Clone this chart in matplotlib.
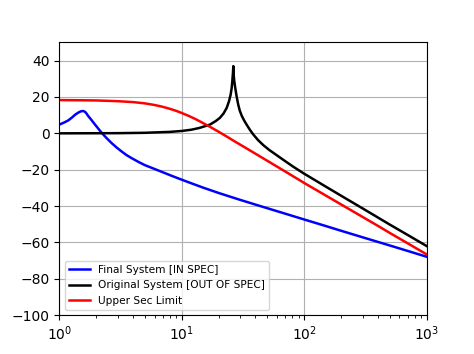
import matplotlib
matplotlib.use("Agg")
import matplotlib.pyplot as plt

# frequency points + magnitude (dB)
freq_final = [1, 1.1, 1.19, 1.27, 1.35, 1.43, 1.5, 1.56, 1.62, 1.67, 1.72, 1.83, 1.95, 2.1, 2.24,
              2.45, 2.67, 2.93, 3.22, 3.53, 3.89, 4.4, 5, 6, 7, 8.3, 10, 12, 15, 20, 25, 30, 40,
              50, 70, 100, 150, 200, 300, 500, 700, 1000]
mag_final = [4.8, 6.0, 7.2, 8.7, 10.3, 11.4, 12.1, 12.3, 11.9, 10.9, 9.6, 7.4, 5.0, 2.3, 0.0,
             -2.8, -5.3, -7.7, -9.9, -11.9, -13.6, -15.6, -17.5, -19.6, -21.4, -23.4, -25.5,
             -27.5, -29.9, -32.8, -34.9, -36.6, -39.2, -41.2, -44.2, -47.4, -51.0, -53.6,
             -57.2, -61.7, -64.7, -67.9]

freq_orig = [1, 3, 5, 8, 10, 12, 14, 17, 19, 20.5, 22, 23.3, 24.3, 25.1, 25.6, 25.9, 26.2, 26.4,
             26.6, 26.8, 27.0, 27.3, 27.7, 28.1, 28.9, 29.8, 31, 32.4, 33.9, 36, 38.4, 42, 46.4,
             52, 59.3, 70, 81.6, 100, 150, 200, 300, 500, 700, 1000]
mag_orig = [0.0, 0.1, 0.3, 0.8, 1.3, 2.0, 3.0, 4.8, 6.8, 8.5, 11.0, 14.0, 17.5, 21.3, 25.0, 28.7,
            33.0, 37.0, 32.0, 29.5, 27.8, 25.5, 22.8, 20.3, 16.0, 12.5, 9.5, 7.0, 4.8, 2.0, -0.6,
            -3.7, -6.5, -9.2, -11.9, -15.3, -18.4, -22.2, -29.3, -34.3, -41.3, -50.2, -55.9,
            -62.0]

freq_limit = [1, 1.5, 2, 3, 4, 5, 6, 7, 8, 9, 10, 11.5, 13, 15, 17, 20, 23.5, 27.2, 32, 40, 50,
              60, 75, 100, 150, 200, 300, 400, 500, 700, 1000]
mag_limit = [18.3, 18.2, 18.1, 17.7, 17.2, 16.5, 15.6, 14.6, 13.5, 12.4, 11.2, 9.5, 7.8, 5.6,
             3.6, 0.9, -1.9, -4.5, -7.3, -11.2, -15.1, -18.3, -22.2, -27.3, -34.2, -39.1, -46.0,
             -50.9, -54.8, -60.5, -66.6]

fig = plt.figure(figsize=(4.74, 3.54), dpi=100)
ax = fig.add_subplot(111)

ax.semilogx(freq_final, mag_final, color="blue", linewidth=1.8, label="Final System [IN SPEC]")
ax.semilogx(freq_orig, mag_orig, color="black", linewidth=1.8, label="Original System [OUT OF SPEC]")
ax.semilogx(freq_limit, mag_limit, color="red", linewidth=1.8, label="Upper Sec Limit")

ax.set_xlim(1, 1000)
ax.set_ylim(-100, 50)
ax.grid(True)
ax.legend(loc="lower left", fontsize=7.6)

fig.savefig("out.png", dpi=100)
